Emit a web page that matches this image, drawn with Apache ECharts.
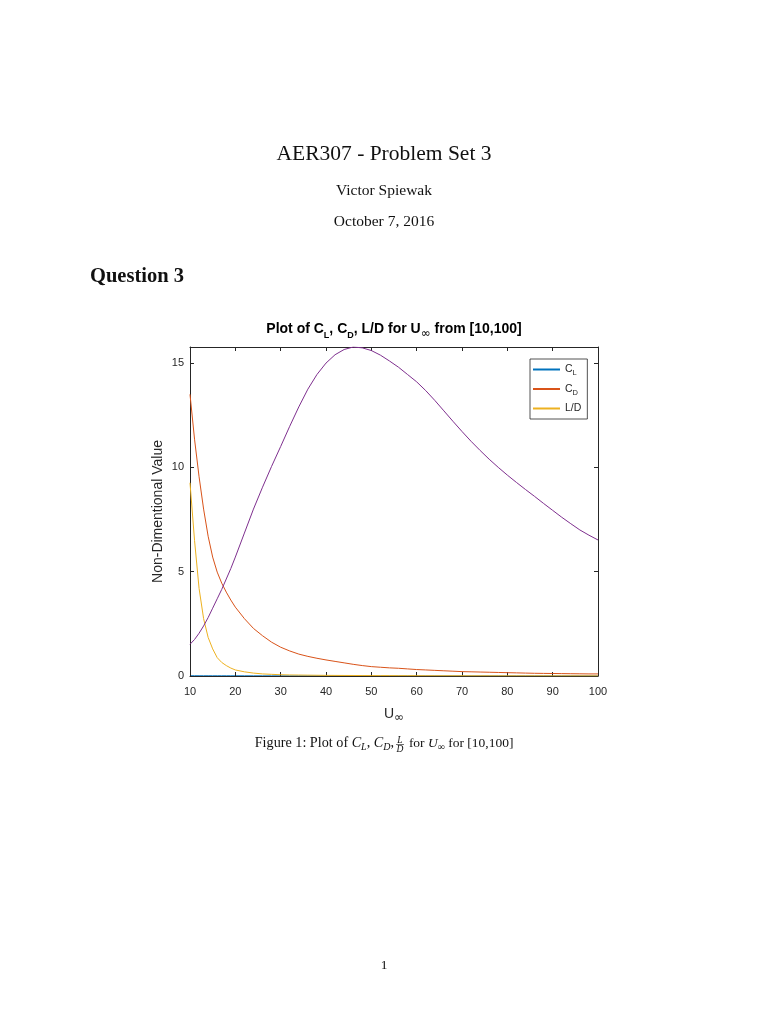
<!DOCTYPE html>
<html><head><meta charset="utf-8">
<script src="https://cdn.jsdelivr.net/npm/echarts@6/dist/echarts.min.js"></script>
<style>html,body{margin:0;padding:0;background:#fff}#c{width:768px;height:1024px}</style>
</head><body><div id="c"></div>
<script>
// U_inf sample points
const uValues = [10,11,12,13,14,15,16,17,18,19,20,22,24,26,28,30,32,34,36,38,40,42,44,46,48,50,52,54,56,58,60,62,64,66,68,70,72,74,76,78,80,82,84,86,88,90,92,94,96,98,100];
// C_L (blue, lies on the axis)
const clValues = [0.012,0.012,0.011,0.011,0.011,0.01,0.01,0.01,0.01,0.009,0.009,
  0.009,0.008,0.008,0.008,0.008,0.007,0.007,0.007,0.007,0.007,
  0.006,0.006,0.006,0.006,0.006,0.006,0.005,0.005,0.005,0.005,
  0.005,0.005,0.005,0.005,0.004,0.004,0.004,0.004,0.004,0.004,
  0.004,0.004,0.004,0.004,0.004,0.003,0.003,0.003,0.003,0.003];
// C_D (orange)
const cdValues = [13.5,11.35,9.55,8.0,6.7,5.7,4.98,4.45,4.02,3.64,3.3,
  2.75,2.28,1.93,1.62,1.38,1.2,1.05,0.94,0.85,0.77,
  0.7,0.63,0.56,0.5,0.45,0.42,0.39,0.37,0.34,0.31,
  0.29,0.27,0.25,0.23,0.21,0.2,0.19,0.18,0.17,0.16,
  0.15,0.14,0.13,0.125,0.12,0.115,0.11,0.105,0.1,0.1];
// L/D (yellow)
const ldValues = [9.26,6.5,4.2,2.75,1.85,1.3,0.88,0.65,0.5,0.38,0.29,
  0.2,0.14,0.1,0.08,0.06,0.05,0.045,0.04,0.035,0.03,
  0.028,0.026,0.024,0.022,0.02,0.019,0.018,0.017,0.016,0.015,
  0.014,0.013,0.013,0.012,0.012,0.011,0.011,0.01,0.01,0.01,
  0.01,0.009,0.009,0.009,0.008,0.008,0.008,0.008,0.007,0.007];
// fourth curve (purple, not in legend)
const fourthValues = [1.52,1.75,2.05,2.4,2.8,3.25,3.7,4.15,4.65,5.15,5.7,
  6.85,8.0,9.05,10.05,11.0,11.97,12.9,13.75,14.45,15.0,
  15.4,15.65,15.77,15.73,15.6,15.38,15.1,14.8,14.45,14.1,
  13.68,13.21,12.71,12.21,11.72,11.25,10.81,10.39,10.0,9.63,
  9.28,8.94,8.61,8.27,7.94,7.61,7.3,7.0,6.75,6.52];
const legendNames = ['C_L','C_D','L/D'];
const legendLabels = {'C_L':'C{s|L}','C_D':'C{s|D}','L/D':'L/D'};
const xMin = 10, xMax = 100, xStep = 10;
const yMin = 0, yMax = 15.77, yStep = 5;

const axisColor = '#262626';
const pairs = arr => uValues.map((u, i) => [u, arr[i]]);

const chart = echarts.init(document.getElementById('c'), null, {renderer: 'canvas'});
const baseX = {
  type: 'value', min: xMin, max: xMax, interval: xStep,
  axisLine: {show: true, onZero: false, lineStyle: {color: axisColor, width: 1}},
  axisTick: {show: true, inside: true, length: 4, lineStyle: {color: axisColor}},
  splitLine: {show: false}
};
const baseY = {
  type: 'value', min: yMin, max: yMax, interval: yStep,
  axisLine: {show: true, onZero: false, lineStyle: {color: axisColor, width: 1}},
  axisTick: {show: true, inside: true, length: 4, lineStyle: {color: axisColor}},
  splitLine: {show: false}
};
const serif = '"Liberation Serif", "Times New Roman", serif';
const sans = '"Liberation Sans", Arial, sans-serif';

chart.setOption({
  animation: false,
  backgroundColor: '#fff',
  grid: {left: 190, right: 170, top: 347, bottom: 348},
  legend: {
    data: legendNames,
    orient: 'vertical', left: 530, top: 359,
    padding: [3, 6, 3, 3], itemGap: 4.5,
    itemWidth: 27, itemHeight: 2, icon: 'rect',
    borderColor: axisColor, borderWidth: 0.8, backgroundColor: '#fff',
    formatter: n => legendLabels[n],
    textStyle: {fontFamily: sans, fontSize: 10.5, color: axisColor, lineHeight: 15,
      rich: {s: {fontFamily: sans, fontSize: 7.5, color: axisColor, lineHeight: 7, verticalAlign: 'bottom'}}}
  },
  xAxis: [
    Object.assign({}, baseX, {
      position: 'bottom',
      axisLabel: {show: true, margin: 10, fontFamily: sans, fontSize: 11, color: axisColor},
      name: 'U{s|∞}', nameLocation: 'middle', nameGap: 28,
      nameTextStyle: {fontFamily: sans, fontSize: 14, color: axisColor, lineHeight: 20,
        rich: {s: {fontFamily: '"DejaVu Sans", sans-serif', fontSize: 12, color: axisColor, lineHeight: 10, verticalAlign: 'bottom'}}}
    }),
    Object.assign({}, baseX, {position: 'top', axisLabel: {show: false}})
  ],
  yAxis: [
    Object.assign({}, baseY, {
      position: 'left',
      axisLabel: {show: true, margin: 6, fontFamily: sans, fontSize: 11, color: axisColor, showMaxLabel: false},
      name: 'Non-Dimentional Value', nameLocation: 'middle', nameGap: 25, nameMoveOverlap: false,
      nameTextStyle: {fontFamily: sans, fontSize: 14, color: axisColor}
    }),
    Object.assign({}, baseY, {position: 'right', axisLabel: {show: false}})
  ],
  series: [
    {name: 'C_L', type: 'line', z: -1, data: pairs(clValues), symbol: 'none', color: '#0072BD', lineStyle: {width: 1}},
    {name: 'C_D', type: 'line', data: pairs(cdValues), symbol: 'none', color: '#D95319', lineStyle: {width: 1}},
    {name: 'L/D', type: 'line', data: pairs(ldValues), symbol: 'none', color: '#EDB120', lineStyle: {width: 1}},
    {name: 'fourth', type: 'line', data: pairs(fourthValues), symbol: 'none', color: '#7E2F8E', lineStyle: {width: 1}}
  ],
  graphic: [
    {type: 'text', x: 384, y: 154, style: {text: 'AER307 - Problem Set 3', fontFamily: serif, fontSize: 21.5, fill: '#111', textAlign: 'center', textVerticalAlign: 'middle'}},
    {type: 'text', x: 384, y: 191, style: {text: 'Victor Spiewak', fontFamily: serif, fontSize: 15.5, fill: '#111', textAlign: 'center', textVerticalAlign: 'middle'}},
    {type: 'text', x: 384, y: 222, style: {text: 'October 7, 2016', fontFamily: serif, fontSize: 15.5, fill: '#111', textAlign: 'center', textVerticalAlign: 'middle'}},
    {type: 'text', x: 90, y: 277, style: {text: 'Question 3', fontFamily: serif, fontSize: 20.5, fontWeight: 'bold', fill: '#111', textAlign: 'left', textVerticalAlign: 'middle'}},
    {type: 'text', x: 394, y: 329, style: {
      text: '{b|Plot of C}{s|L}{b|, C}{s|D}{b|, L/D for U}{i|∞}{b| from [10,100]}',
      textAlign: 'center', textVerticalAlign: 'middle',
      rich: {
        b: {fontFamily: sans, fontWeight: 'bold', fontSize: 14, lineHeight: 22, fill: '#000'},
        s: {fontFamily: sans, fontWeight: 'bold', fontSize: 9, lineHeight: 9, verticalAlign: 'bottom', fill: '#000'},
        i: {fontFamily: '"DejaVu Sans", sans-serif', fontSize: 12, lineHeight: 9, verticalAlign: 'bottom', fill: '#000'}
      }}},
    {type: 'text', x: 394, y: 743, style: {
      text: '{r|Figure 1: Plot of }{m|C}{ms|L}{r|, }{m|C}{ms|D}{r|,}',
      textAlign: 'right', textVerticalAlign: 'middle',
      rich: {
        r: {fontFamily: serif, fontSize: 14.2, lineHeight: 18, fill: '#111'},
        m: {fontFamily: serif, fontStyle: 'italic', fontSize: 14.2, lineHeight: 18, fill: '#111'},
        ms: {fontFamily: serif, fontStyle: 'italic', fontSize: 10, lineHeight: 9, verticalAlign: 'bottom', fill: '#111'}
      }}},
    {type: 'text', x: 400, y: 740, style: {text: 'L', fontFamily: serif, fontStyle: 'italic', fontSize: 9.5, fill: '#111', textAlign: 'center', textVerticalAlign: 'middle'}},
    {type: 'line', shape: {x1: 396, y1: 744.5, x2: 404, y2: 744.5}, style: {stroke: '#111', lineWidth: 0.6}},
    {type: 'text', x: 400, y: 749.5, style: {text: 'D', fontFamily: serif, fontStyle: 'italic', fontSize: 9.5, fill: '#111', textAlign: 'center', textVerticalAlign: 'middle'}},
    {type: 'text', x: 405.5, y: 743, style: {
      text: '{r| for }{m|U}{ms|∞}{r| for [10,100]}',
      textAlign: 'left', textVerticalAlign: 'middle',
      rich: {
        r: {fontFamily: serif, fontSize: 13.5, lineHeight: 18, fill: '#111'},
        m: {fontFamily: serif, fontStyle: 'italic', fontSize: 13.5, lineHeight: 18, fill: '#111'},
        ms: {fontFamily: serif, fontSize: 10, lineHeight: 9, verticalAlign: 'bottom', fill: '#111'}
      }}},
    {type: 'text', x: 384, y: 965, style: {text: '1', fontFamily: serif, fontSize: 13.5, fill: '#111', textAlign: 'center', textVerticalAlign: 'middle'}}
  ]
});
</script></body></html>
